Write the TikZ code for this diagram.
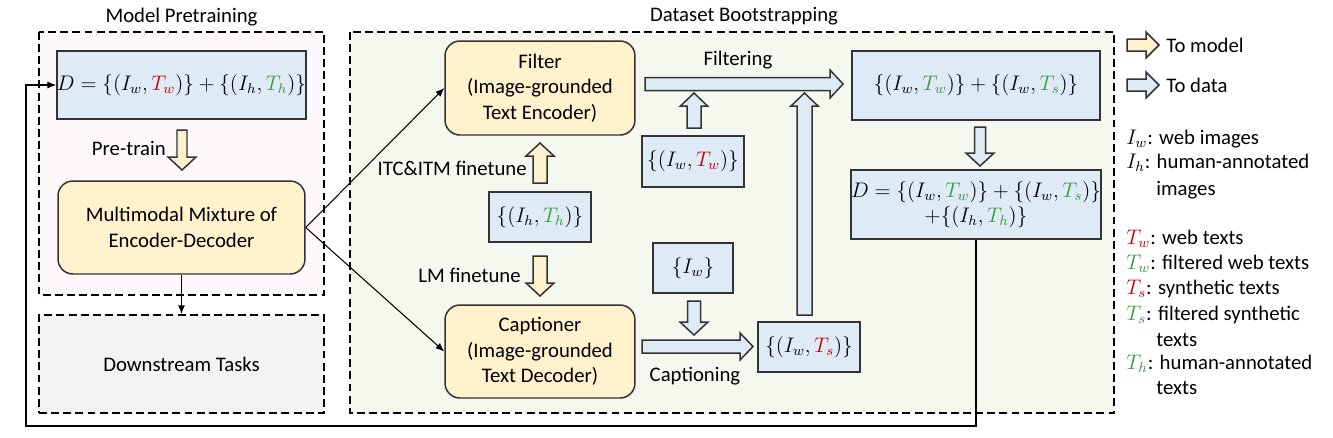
\documentclass[tikz,border=0pt]{standalone}
\usepackage{fontspec}
\setmainfont{Carlito}
\usepackage{xcolor}
\usepackage{tikz}
\usetikzlibrary{arrows.meta}

\definecolor{boxblue}{HTML}{DEEBF7}
\definecolor{boxyellow}{HTML}{FFF2CC}
\definecolor{pretrainbg}{HTML}{FCF8FC}
\definecolor{bootbg}{HTML}{F4F8EF}
\definecolor{downbg}{HTML}{F3F3F3}
\definecolor{txtred}{HTML}{C00000}
\definecolor{txtgreen}{HTML}{3A9A3A}
\definecolor{edge}{HTML}{333333}

\newcommand{\Tred}[1]{\textcolor{txtred}{T_{#1}}}
\newcommand{\Tgreen}[1]{\textcolor{txtgreen}{T_{#1}}}

\tikzset{
    groupframe/.style={draw=black, line width=1.1pt, dash pattern=on 4.5pt off 2.4pt},
    databox/.style={draw=edge, fill=boxblue, line width=0.85pt, align=center, inner sep=0pt},
    modelbox/.style={draw=edge, fill=boxyellow, line width=0.85pt, rounded corners=8.5pt, align=center, inner sep=0pt},
    tomodel/.style={draw=edge, fill=boxyellow, line width=0.85pt},
    todata/.style={draw=edge, fill=boxblue, line width=0.85pt},
    link/.style={line width=0.6pt, -{Latex[length=5pt,width=4pt]}},
    legend/.style={anchor=west, inner sep=0pt},
    pics/fatarrow/.style args={#1/#2/#3}{code={
        \draw[pic actions] (0,-#2) -- (#1-13,-#2) -- (#1-13,-#3) -- (#1,0)
            -- (#1-13,#3) -- (#1-13,#2) -- (0,#2) -- cycle;
    }},
}

\begin{document}
\begin{tikzpicture}[x=0.02cm, y=-0.02cm, font=\fontsize{11.8}{14.5}\selectfont]
    \useasboundingbox (0,0) rectangle (1333,437);

    % the two stages
    \draw[groupframe, fill=pretrainbg] (39,32) rectangle (324,295);
    \draw[groupframe, fill=bootbg] (350,32) rectangle (1114,413);
    \node (pretitle) at (181.5,17) {Model Pretraining};
    \node (boottitle) at (744,16) {Dataset Bootstrapping};

    % model pretraining
    \node[databox, minimum width=4.94cm, minimum height=1.36cm] (dpre) at (181.5,85) {$D=\{(I_w,\Tred{w})\}+\{(I_h,\Tgreen{h})\}$};
    \node[modelbox, minimum width=4.94cm, minimum height=1.86cm] (mmed) at (181.5,227.5) {Multimodal Mixture of\\Encoder-Decoder};
    \node[groupframe, fill=downbg, minimum width=5.7cm, minimum height=1.96cm] (down) at (181.5,364) {Downstream Tasks};
    \pic[tomodel, rotate=-90] at (182,130) {fatarrow=40/5/14};
    \node[anchor=east, inner sep=0pt] (pretrainlbl) at (166,148) {Pre-train};

    % dataset bootstrapping
    \node[modelbox, minimum width=3.8cm, minimum height=1.88cm] (filter) at (540,88) {Filter\\(Image-grounded\\Text Encoder)};
    \node[modelbox, minimum width=3.8cm, minimum height=1.86cm] (capt) at (540,351.5) {Captioner\\(Image-grounded\\Text Decoder)};
    \node[databox, minimum width=2.04cm, minimum height=1.0cm] (human) at (540,217) {$\{(I_h,\Tgreen{h})\}$};
    \node[databox, minimum width=2.04cm, minimum height=1.02cm] (webpair) at (693,161.5) {$\{(I_w,\Tred{w})\}$};
    \node[databox, minimum width=1.6cm, minimum height=1.0cm] (webimg) at (693,268) {$\{I_w\}$};
    \node[databox, minimum width=2.04cm, minimum height=1.0cm] (synth) at (809,347) {$\{(I_w,\Tred{s})\}$};
    \node[databox, minimum width=4.96cm, minimum height=1.38cm] (filtered) at (976,85.5) {$\{(I_w,\Tgreen{w})\}+\{(I_w,\Tgreen{s})\}$};
    \node[databox, minimum width=4.96cm, minimum height=1.38cm] (dfinal) at (976,204.5) {$D=\{(I_w,\Tgreen{w})\}+\{(I_w,\Tgreen{s})\}$\\$+\{(I_h,\Tgreen{h})\}$};

    \pic[tomodel, rotate=90] at (540,183) {fatarrow=40/7/14};
    \pic[tomodel, rotate=-90] at (540,256) {fatarrow=40/7/14};
    \node[anchor=east, inner sep=0pt] (itclbl) at (527,168) {ITC\&ITM finetune};
    \node[anchor=east, inner sep=0pt] (lmlbl) at (521,275) {LM finetune};

    \pic[todata] at (645,84) {fatarrow=198/6.5/14};
    \pic[todata, rotate=90] at (694,128) {fatarrow=35/7/13.5};
    \pic[todata, rotate=90] at (804.5,315) {fatarrow=222/7.5/13.5};
    \pic[todata, rotate=-90] at (694,301) {fatarrow=34/6.5/14};
    \pic[todata] at (642,346.5) {fatarrow=111/6.5/13.5};
    \pic[todata, rotate=-90] at (980,127) {fatarrow=39/5.5/14};
    \node (filterlbl) at (738,60) {Filtering};
    \node (captlbl) at (695,376) {Captioning};

    \draw[link] (mmed.east) -- (filter.west);
    \draw[link] (mmed.east) -- (capt.west);
    \draw[link] (mmed.south) -- (down.north);
    \draw[link] (dfinal.south) |- (26,426) |- (dpre.west);

    % legend
    \pic[tomodel] at (1127,45) {fatarrow=32/6/13};
    \pic[todata] at (1127,85) {fatarrow=32/6/13};
    \node[legend] (lgmodel) at (1166,45) {To model};
    \node[legend] (lgdata) at (1166,85) {To data};
    \node[legend] (lgiw) at (1126,139) {$I_w$: web images};
    \node[legend] (lgih) at (1126,163) {$I_h$: human-annotated};
    \node[legend] (lgih2) at (1156,190) {images};
    \node[legend] (lgtwr) at (1126,239) {$\Tred{w}$: web texts};
    \node[legend] (lgtwg) at (1126,264) {$\Tgreen{w}$: filtered web texts};
    \node[legend] (lgtsr) at (1126,289) {$\Tred{s}$: synthetic texts};
    \node[legend] (lgtsg) at (1126,315) {$\Tgreen{s}$: filtered synthetic};
    \node[legend] (lgtsg2) at (1156,340) {texts};
    \node[legend] (lgth) at (1126,364) {$\Tgreen{h}$: human-annotated};
    \node[legend] (lgth2) at (1156,388) {texts};
\end{tikzpicture}
\end{document}
